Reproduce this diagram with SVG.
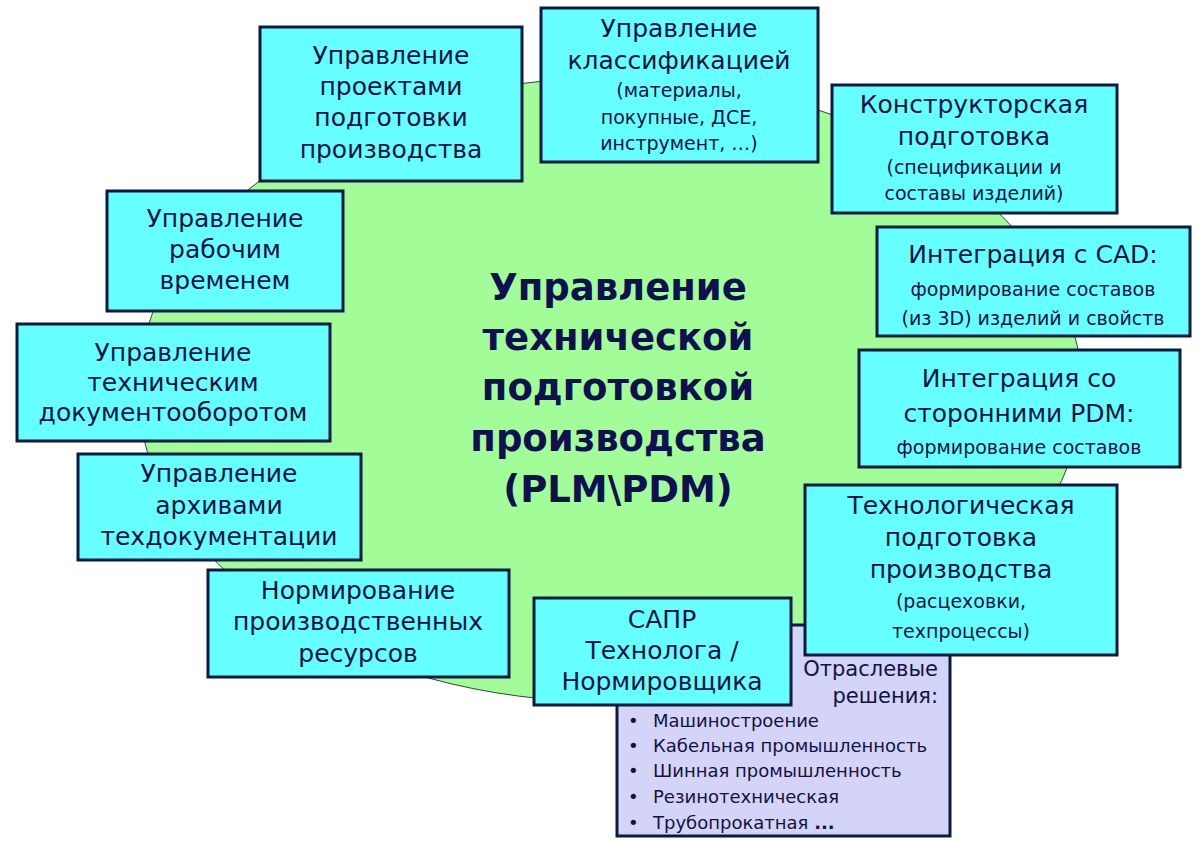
<svg xmlns="http://www.w3.org/2000/svg" width="1201" height="842" viewBox="0 0 1201 842">
<style>
.b{fill:#66ffff;stroke:#0b1a3f;stroke-width:3}
text{font-family:"DejaVu Sans",Verdana,sans-serif;fill:#121245;text-anchor:middle}
.l{font-size:25px}.s{font-size:19px}.c{font-size:37px;font-weight:bold;fill:#101050}
.p{font-size:18px;text-anchor:start}
</style>
<rect width="1201" height="842" fill="#fff"/>
<g id="center"><ellipse cx="610" cy="390" rx="472" ry="312" fill="#a2fc98" stroke="#2a4a3a" stroke-width="1"/>
<text class="c"><tspan x="618" y="300">Управление</tspan><tspan x="618" y="350">технической</tspan><tspan x="618" y="400">подготовкой</tspan><tspan x="618" y="451">производства</tspan><tspan x="618" y="502">(PLM\PDM)</tspan></text></g>
<g id="n1"><rect class="b" x="260" y="27" width="262" height="154"/><text class="l"><tspan x="391" y="64">Управление</tspan><tspan x="391" y="95">проектами</tspan><tspan x="391" y="126">подготовки</tspan><tspan x="391" y="158">производства</tspan></text></g>
<g id="n2"><rect class="b" x="541" y="8" width="277" height="154"/><text><tspan class="l" x="679" y="37">Управление</tspan><tspan class="l" x="679" y="69">классификацией</tspan><tspan class="s" x="679" y="97">(материалы,</tspan><tspan class="s" x="679" y="124">покупные, ДСЕ,</tspan><tspan class="s" x="679" y="150">инструмент, …)</tspan></text></g>
<g id="n3"><rect class="b" x="832" y="85" width="285" height="128"/><text><tspan class="l" x="974" y="113">Конструкторская</tspan><tspan class="l" x="974" y="145">подготовка</tspan><tspan class="s" x="974" y="174">(спецификации и</tspan><tspan class="s" x="974" y="200">составы изделий)</tspan></text></g>
<g id="n4"><rect class="b" x="877" y="227" width="313" height="109"/><text><tspan class="l" x="1033" y="263">Интеграция с CAD:</tspan><tspan class="s" x="1033" y="296">формирование составов</tspan><tspan class="s" x="1033" y="325">(из 3D) изделий и свойств</tspan></text></g>
<g id="n5"><rect class="b" x="859" y="350" width="321" height="117"/><text><tspan class="l" x="1019" y="387">Интеграция со</tspan><tspan class="l" x="1019" y="422">сторонними PDM:</tspan><tspan class="s" x="1019" y="454">формирование составов</tspan></text></g>
<g id="n8"><rect x="617" y="625" width="333" height="211" fill="#d4d4f8" stroke="#0b1a3f" stroke-width="3"/><text style="font-size:21px;text-anchor:end"><tspan x="938" y="676">Отраслевые</tspan><tspan x="938" y="703">решения:</tspan></text>
<text class="p"><tspan x="628" y="727">•</tspan><tspan x="653" y="727">Машиностроение</tspan><tspan x="628" y="752">•</tspan><tspan x="653" y="752">Кабельная промышленность</tspan><tspan x="628" y="777">•</tspan><tspan x="653" y="777">Шинная промышленность</tspan><tspan x="628" y="803">•</tspan><tspan x="653" y="803">Резинотехническая</tspan><tspan x="628" y="829">•</tspan><tspan x="653" y="829">Трубопрокатная  <tspan font-weight="bold">...</tspan></tspan></text></g>
<g id="n6"><rect class="b" x="805" y="485" width="312" height="170"/><text><tspan class="l" x="961" y="514">Технологическая</tspan><tspan class="l" x="961" y="546">подготовка</tspan><tspan class="l" x="961" y="578">производства</tspan><tspan class="s" x="961" y="608">(расцеховки,</tspan><tspan class="s" x="961" y="638">техпроцессы)</tspan></text></g>
<g id="n7"><rect class="b" x="534" y="598" width="257" height="107"/><text class="l"><tspan x="662" y="628">САПР</tspan><tspan x="662" y="659">Технолога /</tspan><tspan x="662" y="690">Нормировщика</tspan></text></g>
<g id="n9"><rect class="b" x="208" y="570" width="301" height="107"/><text class="l"><tspan x="358" y="599">Нормирование</tspan><tspan x="358" y="630">производственных</tspan><tspan x="358" y="662">ресурсов</tspan></text></g>
<g id="n10"><rect class="b" x="78" y="454" width="283" height="106"/><text class="l"><tspan x="219" y="482">Управление</tspan><tspan x="219" y="514">архивами</tspan><tspan x="219" y="545">техдокументации</tspan></text></g>
<g id="n11"><rect class="b" x="17" y="324" width="313" height="117"/><text class="l"><tspan x="173" y="361">Управление</tspan><tspan x="173" y="391">техническим</tspan><tspan x="173" y="421">документооборотом</tspan></text></g>
<g id="n12"><rect class="b" x="107" y="191" width="236" height="120"/><text class="l"><tspan x="225" y="227">Управление</tspan><tspan x="225" y="258">рабочим</tspan><tspan x="225" y="289">временем</tspan></text></g>
<g id="connectors"/>
</svg>
